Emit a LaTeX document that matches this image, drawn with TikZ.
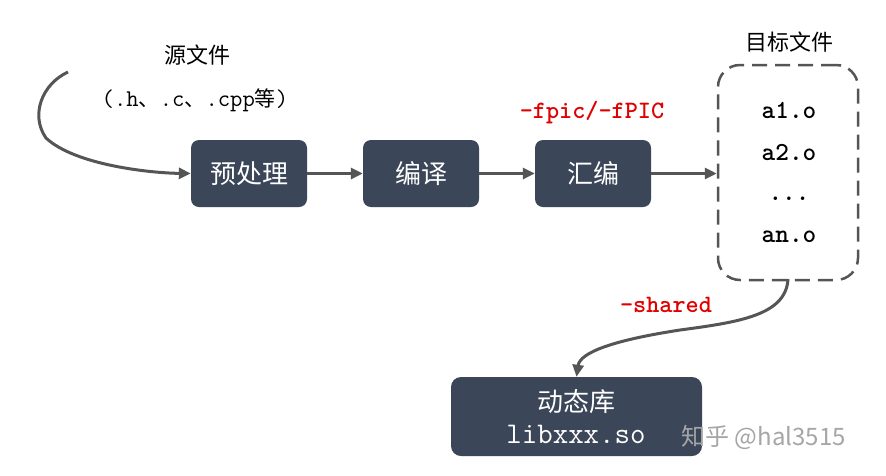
\documentclass[tikz,border=0pt]{standalone}
\usepackage{fontspec}
\usetikzlibrary{arrows.meta}
\newfontfamily\cjk{Noto Sans CJK SC}
\definecolor{boxfill}{HTML}{3B4658}
\definecolor{linegray}{HTML}{555555}
\definecolor{flagred}{HTML}{E00000}
\tikzset{
  stagebox/.style={draw=none, fill=boxfill, rounded corners=8pt, text=white, font=\cjk\fontsize{26}{30}\selectfont, minimum width=116pt, minimum height=67pt, inner sep=0pt},
  conn/.style={draw=linegray, line width=3pt, -{Triangle[length=12pt,width=11pt]}},
  objtext/.style={font=\ttfamily\bfseries\fontsize{26}{30}\selectfont, text=black},
  flag/.style={font=\ttfamily\bfseries\fontsize{25}{29}\selectfont, text=flagred},
  captext/.style={font=\cjk\fontsize{22}{26}\selectfont, text=black}
}
\begin{document}
\begin{tikzpicture}[x=1pt,y=-1pt]
\useasboundingbox (0,0) rectangle (886,475);
\fill[white] (0,0) rectangle (886,475);
% stages
\node[stagebox] (pre) at (249,173.5) {预处理};
\node[stagebox] (cmp) at (421,173.5) {编译};
\node[stagebox] (asm) at (593,173.5) {汇编};
% dashed object box
\node[draw=linegray, line width=2.5pt, dash pattern=on 15pt off 8pt, rounded corners=22pt, minimum width=140pt, minimum height=215pt, inner sep=0pt] (obj) at (788,172.5) {};
\node[objtext] (a1) at (789,110) {a1.o};
\node[objtext] (a2) at (789,152) {a2.o};
\node[objtext] (dots) at (789,199) {...};
\node[objtext] (an) at (789,237) {an.o};
% library box
\node[draw=none, fill=boxfill, rounded corners=10pt, minimum width=251pt, minimum height=79pt, inner sep=0pt] (lib) at (576.5,416.5) {};
\node[text=white, font=\cjk\fontsize{26}{30}\selectfont] (libname) at (576,402) {动态库};
\node[text=white, font=\ttfamily\fontsize{30}{34}\selectfont] (libfile) at (576,434) {libxxx.so};
% labels
\node[captext] (src) at (197,55) {源文件};
\node[font=\ttfamily\fontsize{24}{28}\selectfont] (ext) at (195,100) {(.h{\cjk\fontsize{21}{25}\selectfont 、}.c{\cjk\fontsize{21}{25}\selectfont 、}.cpp{\cjk\fontsize{21}{25}\selectfont 等})};
\node[captext] (tgt) at (789,42) {目标文件};
\node[flag] (fpic) at (592,113) {-fpic/-fPIC};
\node[flag] (shared) at (666,305) {-shared};
% watermark
\node[text=gray!70, font=\cjk\fontsize{24}{28}\selectfont, anchor=west] (wm) at (678,437) {知乎 @hal3515};
% connectors
\coordinate (s1) at (68,72);
\coordinate (s2) at (788,279);
\draw[conn] (s1) .. controls (42,84) and (30,115) .. (46,138) .. controls (75,165) and (150,173) .. (pre.west);
\draw[conn] (pre.east) -- (cmp.west);
\draw[conn] (cmp.east) -- (asm.west);
\draw[conn] (asm.east) -- (obj.west |- asm.east);
\draw[conn] (s2) .. controls (786,315) and (740,322) .. (680,330) .. controls (615,340) and (580,352) .. (lib.north);
\end{tikzpicture}
\end{document}
